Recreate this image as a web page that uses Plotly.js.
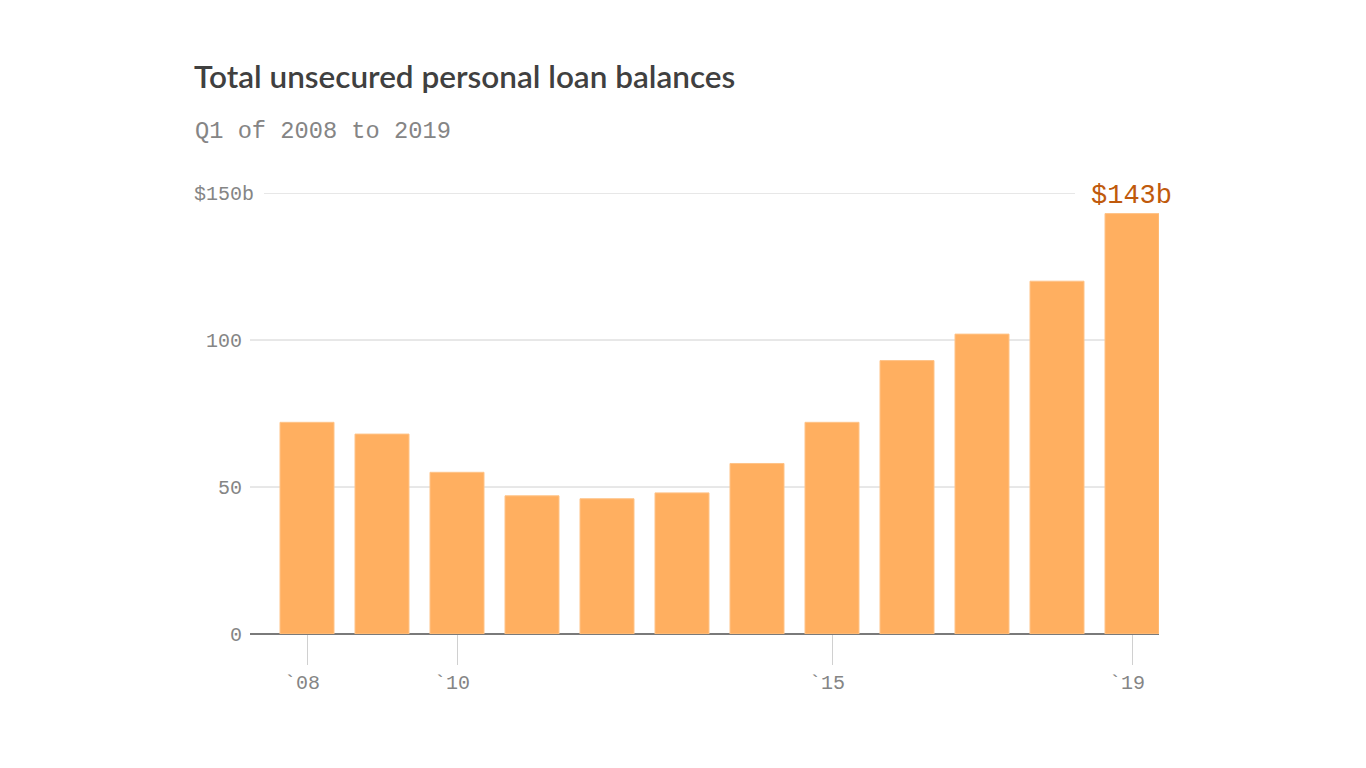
<!DOCTYPE html>
<html>
<head>
<meta charset="utf-8">
<script src="https://cdn.plot.ly/plotly-3.0.1.min.js"></script>
<style>html,body{margin:0;padding:0;background:#fff;}#chart{width:1366px;height:768px;}</style>
</head>
<body>
<div id="chart"></div>
<script>
const years = [2008, 2009, 2010, 2011, 2012, 2013, 2014, 2015, 2016, 2017, 2018, 2019];
const balances = [72, 68, 55, 47, 46, 48, 58, 72, 93, 102, 120, 143];
const xTickVals = [2008, 2010, 2015, 2019];
const xTickText = ["`08", "`10", "`15", "`19"];
const yTickVals = [0, 50, 100, 150];
const yTickText = ["0", "50", "100", "$150b"];
const titleText = "Total unsecured personal loan balances";
const subtitleText = "Q1 of 2008 to 2019";
const lastLabel = "$143b";

const L = 250, R = 1159, T = 193, B = 634, W = 1366, H = 768;
const pw = R - L, ph = B - T;
const mono = "Liberation Mono, DejaVu Sans Mono, monospace";

const shapes = yTickVals.filter(v => v > 0).map(v => ({
  type: "line", xref: "paper", yref: "y", layer: "below",
  x0: v === 150 ? (264 - L) / pw : 0,
  x1: v === 150 ? (1075 - L) / pw : 1,
  y0: v, y1: v,
  line: {color: "#d0d0d0", width: 1}
}));

const annotations = yTickVals.map((v, i) => ({
  xref: "paper", yref: "y", x: 0, y: v,
  xshift: v === 150 ? 6 : -6, yshift: -1,
  xanchor: "right", yanchor: "middle", showarrow: false,
  text: yTickText[i],
  font: {family: mono, size: 20, color: "#858585"}
}));
annotations.push({
  xref: "paper", yref: "paper", x: (193 - L) / pw, y: (B - 131) / ph,
  xanchor: "left", yanchor: "middle", showarrow: false,
  text: subtitleText,
  font: {family: mono, size: 23.7, color: "#858585"}
});
annotations.push({
  xref: "x", yref: "paper", x: years[years.length - 1], y: (B - 196) / ph,
  xanchor: "center", yanchor: "middle", showarrow: false, xshift: -1,
  text: lastLabel,
  font: {family: mono, size: 27, color: "#c05a0c"}
});

const trace = {
  type: "bar", x: years, y: balances,
  marker: {color: "#ffaf60", line: {color: "#ffc387", width: 1}},
  hoverinfo: "skip"
};

const layout = {
  width: W, height: H,
  paper_bgcolor: "#fff", plot_bgcolor: "rgba(0,0,0,0)",
  margin: {l: L, r: W - R, t: T, b: H - B, pad: 0},
  bargap: 0.28,
  showlegend: false,
  title: {
    text: titleText, xref: "container", yref: "container",
    x: 194 / W, xanchor: "left", y: 1 - 77 / H, yanchor: "middle",
    font: {family: "Lato, Open Sans, sans-serif", size: 31.5, color: "#404040", weight: 600}
  },
  xaxis: {
    range: [2007.24, 2019.36], tickmode: "array",
    tickvals: xTickVals, ticktext: xTickText,
    ticks: "outside", ticklen: 30, tickcolor: "#d0d0d0", tickwidth: 1,
    showgrid: false, zeroline: false, showline: false,
    tickfont: {family: mono, size: 20, color: "#858585"},
    ticklabelstandoff: 0, ticklabelshift: -5, fixedrange: true
  },
  yaxis: {
    range: [0, 150], showgrid: false, showticklabels: false,
    zeroline: true, zerolinecolor: "#7a7a7a", zerolinewidth: 1.5,
    fixedrange: true
  },
  shapes: shapes,
  annotations: annotations
};

Plotly.newPlot("chart", [trace], layout, {displayModeBar: false, staticPlot: true});
</script>
</body>
</html>
